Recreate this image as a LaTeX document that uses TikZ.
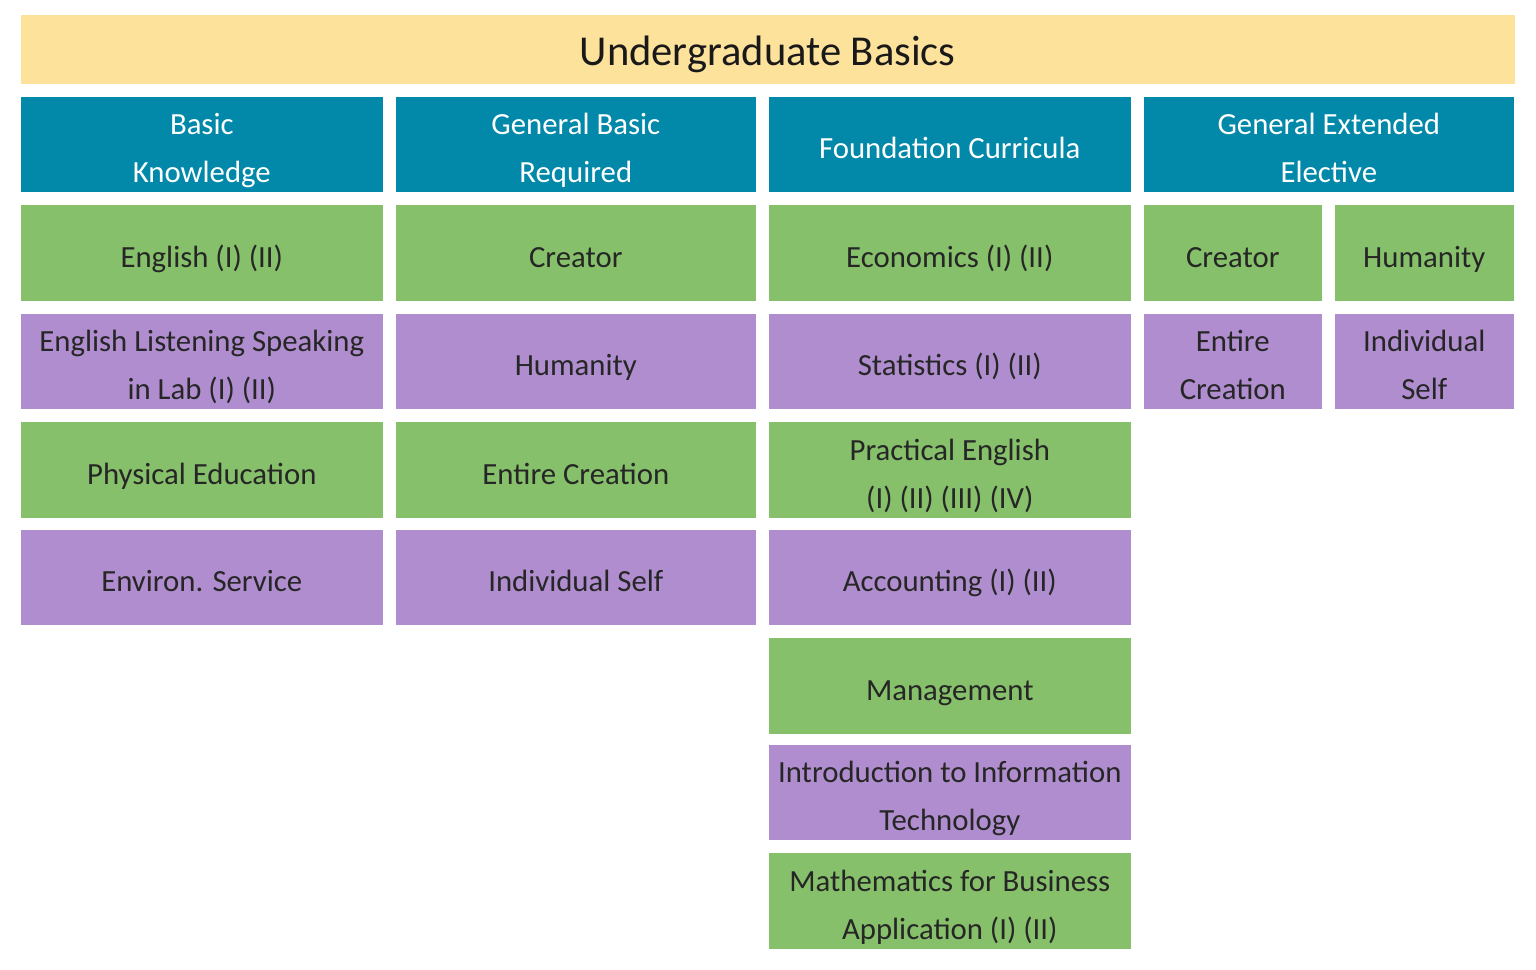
\documentclass[tikz,border=0pt]{standalone}
\usepackage{fontspec}
\setmainfont{Carlito}
\definecolor{titlebg}{HTML}{FDE29B}
\definecolor{headbg}{HTML}{0288A8}
\definecolor{greenbg}{HTML}{86C06A}
\definecolor{purplebg}{HTML}{B08DCE}
\begin{document}
\begin{tikzpicture}[x=0.01cm,y=-0.01cm,
    toprule/.store in=\celltop, toprule=10pt,
    cell/.style={anchor=north west,inner sep=0pt,align=center,
      font=\fontsize{8.75}{13.7}\selectfont,text=black!85,
      execute at begin node={\rule{0pt}{\celltop}},
      execute at end node={\rule[-1.8pt]{0pt}{1.8pt}}},
    two/.style={toprule=23.7pt},
    head/.style={cell,fill=headbg,text=white,minimum height=0.95cm},
    grn/.style={cell,fill=greenbg,minimum height=0.96cm},
    prp/.style={cell,fill=purplebg,minimum height=0.95cm},
    wA/.style={minimum width=3.62cm},
    wB/.style={minimum width=3.60cm},
    wC/.style={minimum width=3.62cm},
    wD/.style={minimum width=3.70cm},
    wE/.style={minimum width=1.78cm},
    wF/.style={minimum width=1.79cm}]
  \useasboundingbox[fill=white] (0,0) rectangle (1536,969);
  % title
  \node[anchor=north west,inner sep=0pt,fill=titlebg,minimum width=14.93cm,
    minimum height=0.69cm,font=\fontsize{12.1}{14}\selectfont,text=black!90]
    (title) at (20,14) {\rule[-2.8pt]{0pt}{14.8pt}Undergraduate Basics};
  % headers
  \node[head,wA,two] (hBasic) at (20,96) {Basic\\Knowledge};
  \node[head,wB,two] (hGeneral) at (395,96) {General Basic\\Required};
  \node[head,wC] (hFound) at (768,96) {Foundation Curricula};
  \node[head,wD,two] (hExt) at (1143,96) {General Extended\\Elective};
  % basic knowledge
  \node[grn,wA] (english) at (20,204) {English (I) (II)};
  \node[prp,wA,two] (listening) at (20,313) {English Listening Speaking\\in Lab (I) (II)};
  \node[grn,wA] (physical) at (20,421) {Physical Education};
  \node[prp,wA] (environ) at (20,529) {Environ. Service};
  % general basic required
  \node[grn,wB] (creatorA) at (395,204) {Creator};
  \node[prp,wB] (humanityA) at (395,313) {Humanity};
  \node[grn,wB] (entireA) at (395,421) {Entire Creation};
  \node[prp,wB] (individualA) at (395,529) {Individual Self};
  % foundation curricula
  \node[grn,wC] (economics) at (768,204) {Economics (I) (II)};
  \node[prp,wC] (statistics) at (768,313) {Statistics (I) (II)};
  \node[grn,wC,two] (practical) at (768,421) {Practical English\\(I) (II) (III) (IV)};
  \node[prp,wC] (accounting) at (768,529) {Accounting (I) (II)};
  \node[grn,wC] (management) at (768,637) {Management};
  \node[prp,wC,two] (intro) at (768,744) {Introduction to Information\\Technology};
  \node[grn,wC,two] (maths) at (768,852) {Mathematics for Business\\Application (I) (II)};
  % general extended elective
  \node[grn,wE] (creatorB) at (1143,204) {Creator};
  \node[grn,wF] (humanityB) at (1334,204) {Humanity};
  \node[prp,wE,two] (entireB) at (1143,313) {Entire\\Creation};
  \node[prp,wF,two] (individualB) at (1334,313) {Individual\\Self};
\end{tikzpicture}
\end{document}
